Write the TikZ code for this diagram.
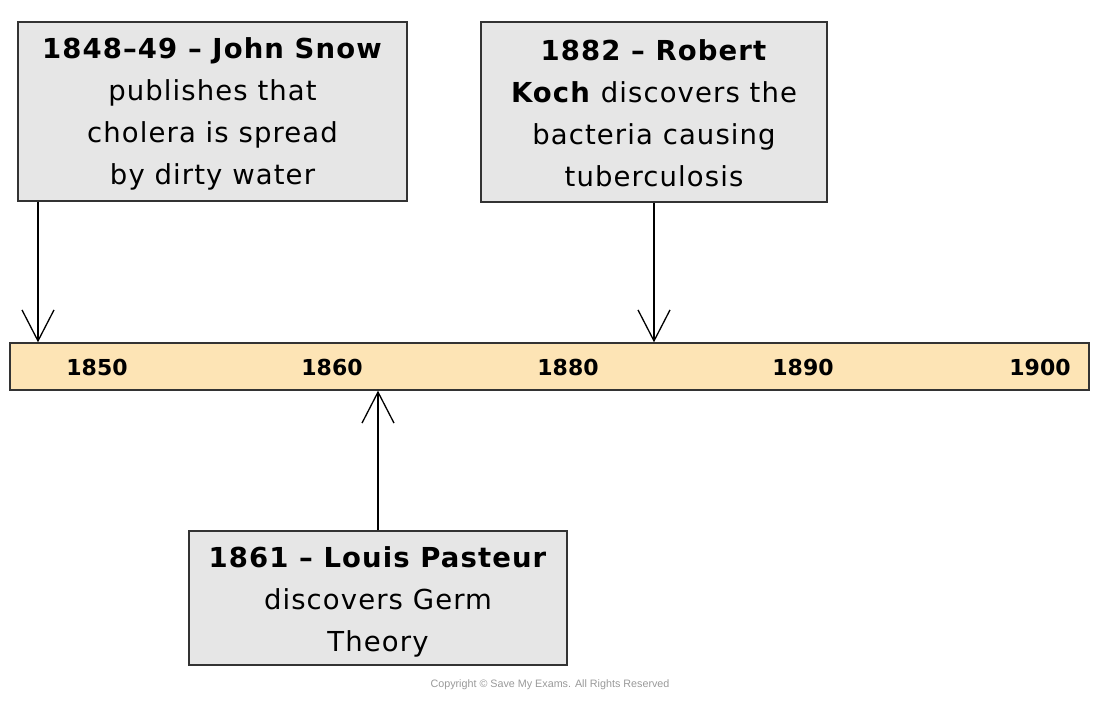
\documentclass[tikz,border=0pt]{standalone}
\usepackage{fontspec}
\setmainfont{DejaVu Sans}[LetterSpace=4]
\newfontfamily\yearfont{DejaVu Sans}
\newfontfamily\copyfont{Liberation Sans}
\usetikzlibrary{arrows.meta}
\definecolor{boxfill}{HTML}{E6E6E6}
\definecolor{boxline}{HTML}{333333}
\definecolor{barfill}{HTML}{FDE4B5}
\tikzset{
  evbox/.style={draw=boxline, fill=boxfill, line width=1.3pt, rectangle, inner sep=0pt},
  evtext/.style={align=center, inner sep=0pt, font=\fontsize{27.5}{42}\selectfont},
  yearlbl/.style={font=\yearfont\fontsize{22}{26}\selectfont\bfseries, inner sep=0pt},
  arr/.style={line width=1.3pt, -{Straight Barb[length=31pt,width=32pt,line width=1.3pt]}},
}
\begin{document}
\begin{tikzpicture}[x=1pt,y=-1pt]
\useasboundingbox (0,0) rectangle (1100,702);
% timeline bar
\node[draw=boxline, fill=barfill, line width=1.3pt, minimum width=1079pt, minimum height=47pt, inner sep=0pt] (bar) at (549.5,366.5) {};
\node[yearlbl] (y1850) at (97,367) {1850};
\node[yearlbl] (y1860) at (332,367) {1860};
\node[yearlbl] (y1880) at (568,367) {1880};
\node[yearlbl] (y1890) at (803,367) {1890};
\node[yearlbl] (y1900) at (1040,367) {1900};
% event boxes
\node[evbox, minimum width=389pt, minimum height=179pt] (b1) at (212.5,111.5) {};
\node[evtext] (t1) at (212.5,113.5)
  {\textbf{1848–49 – John Snow}\\publishes that\\cholera is spread\\by dirty water};
\node[evbox, minimum width=346pt, minimum height=180pt] (b2) at (654,112) {};
\node[evtext] (t2) at (654,113)
  {\textbf{1882 – Robert}\\\textbf{Koch} discovers the\\bacteria causing\\tuberculosis};
\node[evbox, minimum width=378pt, minimum height=134pt] (b3) at (378,598) {};
\node[evtext] (t3) at (378,601.5)
  {\textbf{1861 – Louis Pasteur}\\discovers Germ\\Theory};
% arrows
\coordinate (x1) at (38,0);
\coordinate (x2) at (654,0);
\coordinate (x3) at (378,0);
\draw[arr] (b1.south -| x1) -- (bar.north -| x1);
\draw[arr] (b2.south -| x2) -- (bar.north -| x2);
\draw[arr] (b3.north -| x3) -- (bar.south -| x3);
% copyright
\node[font=\copyfont\fontsize{10.75}{12}\selectfont, text=gray!80, inner sep=0pt] (copy) at (550,685) {Copyright © Save My Exams. All Rights Reserved};
\end{tikzpicture}
\end{document}
